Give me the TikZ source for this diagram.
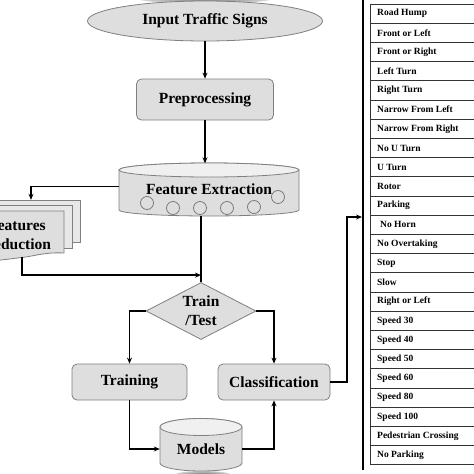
\documentclass[tikz,border=0pt]{standalone}
\usepackage{fontspec}
\setmainfont{Liberation Serif}
\usetikzlibrary{arrows.meta,calc,shapes.geometric}
\begin{document}
\begin{tikzpicture}[x=1pt,y=-1pt,
  lbl/.style={font=\fontsize{15.5}{19}\selectfont\bfseries, inner sep=0pt, align=center},
  conn/.style={line width=1.3pt, black},
  arr/.style={conn, -{Stealth[length=6pt,width=5pt]}},
  shapebd/.style={draw=black!50, line width=0.8pt, fill=black!13},
  topface/.style={draw=black!50, line width=0.8pt, fill=black!6},
  rowbox/.style={draw=black!80, line width=0.9pt, fill=white, inner sep=0pt},
  rowtxt/.style={font=\fontsize{9.5}{11}\selectfont\bfseries, anchor=west, inner sep=0pt}]
\useasboundingbox (0,0) rectangle (474,474);
\clip (0,0) rectangle (474,474);
\fill[white] (0,0) rectangle (474,474);

% shadows cut by the frame
\shade[inner color=black!60, outer color=black!15] (205,-3) ellipse [x radius=72pt, y radius=7pt];
\shade[inner color=black!65, outer color=black!20] (203,475) ellipse [x radius=28pt, y radius=4pt];

% Input
\node[ellipse, draw=black!50, line width=0.8pt, fill=black!13, minimum width=235pt, minimum height=40pt, lbl] (in) at (205,21) {Input Traffic Signs};

% Preprocessing
\node[rectangle, rounded corners=5pt, shapebd, minimum width=137pt, minimum height=41pt, lbl] (pre) at (205,99.5) {Preprocessing};

% Feature extraction cylinder
\filldraw[shapebd] (119,170) -- (119,210) arc[start angle=180,end angle=360,x radius=90pt,y radius=6pt] -- (299,170) arc[start angle=0,end angle=180,x radius=90pt,y radius=7pt] -- cycle;
\filldraw[topface] (209,170) ellipse[x radius=90pt, y radius=7pt];
\foreach \cx/\cy in {147/203,173/208,200/208,227/208,254/207,278/197}
  \draw[black!55, line width=0.7pt] (\cx,\cy) circle[radius=6.5pt];
\node[minimum width=180pt, minimum height=52pt, lbl] (fe) at (209,189.5) {Feature Extraction};

% Features reduction (multi-document)
\filldraw[shapebd, fill=black!9] (-30,200) rectangle (80,242);
\filldraw[shapebd, fill=black!9] (-30,205) rectangle (72,248);
\filldraw[shapebd] (-30,211) -- (64,211) -- (64,253) .. controls (45,252) and (35,256) .. (22,257.5) .. controls (8,259) and (-15,263) .. (-30,260) -- cycle;
\node[minimum width=94pt, minimum height=42pt, lbl] (fr) at (17,235.5) {Features\\Reduction};

% Train/Test
\node[diamond, aspect=1.93, shapebd, minimum width=110pt, minimum height=57pt, lbl] (tt) at (201,311) {Train\\/Test};

% Training / Classification
\node[rectangle, rounded corners=5pt, shapebd, minimum width=115pt, minimum height=36pt, lbl] (tr) at (129.5,382) {Training};
\node[rectangle, rounded corners=5pt, shapebd, minimum width=112pt, minimum height=36pt, lbl] (cl) at (274,382) {Classification};

% Models cylinder
\filldraw[shapebd] (160,427) -- (160,463) arc[start angle=180,end angle=360,x radius=41pt,y radius=8pt] -- (242,427) arc[start angle=0,end angle=180,x radius=41pt,y radius=8.5pt] -- cycle;
\filldraw[topface] (201,427) ellipse[x radius=41pt, y radius=8.5pt];
\node[minimum width=82pt, minimum height=20pt, lbl] (mo) at (201,449) {Models};

% Table of classes
\draw[line width=1.5pt] (363,0) -- (363,470);
\foreach \t [count=\i from 0] in {Road Hump, Front or Left, Front or Right, Left Turn, Right Turn, Narrow From Left, Narrow From Right, No U Turn, U Turn, Rotor, Parking, {\hspace{3pt}No Horn}, No Overtaking, Stop, Slow, Right or Left, Speed 30, Speed 40, Speed 50, Speed 60, Speed 80, Speed 100, Pedestrian Crossing, No Parking}
{
  \node[rowbox, anchor=north west, minimum width=120pt, minimum height=19.2pt] (r\i) at (370,{3.5+19.2*\i}) {};
  \node[rowtxt] (t\i) at ($(r\i.west)+(7,0)$) {\t};
}

% Connectors
\draw[arr] (in.south) -- (pre.north);
\draw[arr] (pre.south) -- (pre.south |- fe.north);
\draw[arr] ([yshift=3pt]fe.west) -| ($(fr.north)+(14,-14.5)$);
\draw[conn] (tt.north |- fe.south) -- (tt.north);
\draw[arr] ([xshift=5pt]fr.south) |- ([yshift=7pt]tt.north);
\draw[arr] (tt.west) -| (tr.north);
\draw[arr] (tt.east) -| (cl.north);
\draw[arr] (tr.south) |- (mo.west);
\draw[arr] (mo.east) -| (cl.south);
\coordinate (bend) at (347,217);
\coordinate (tab) at (362,217);
\draw[arr] (cl.east) -| (bend) -- (tab);
\end{tikzpicture}
\end{document}
